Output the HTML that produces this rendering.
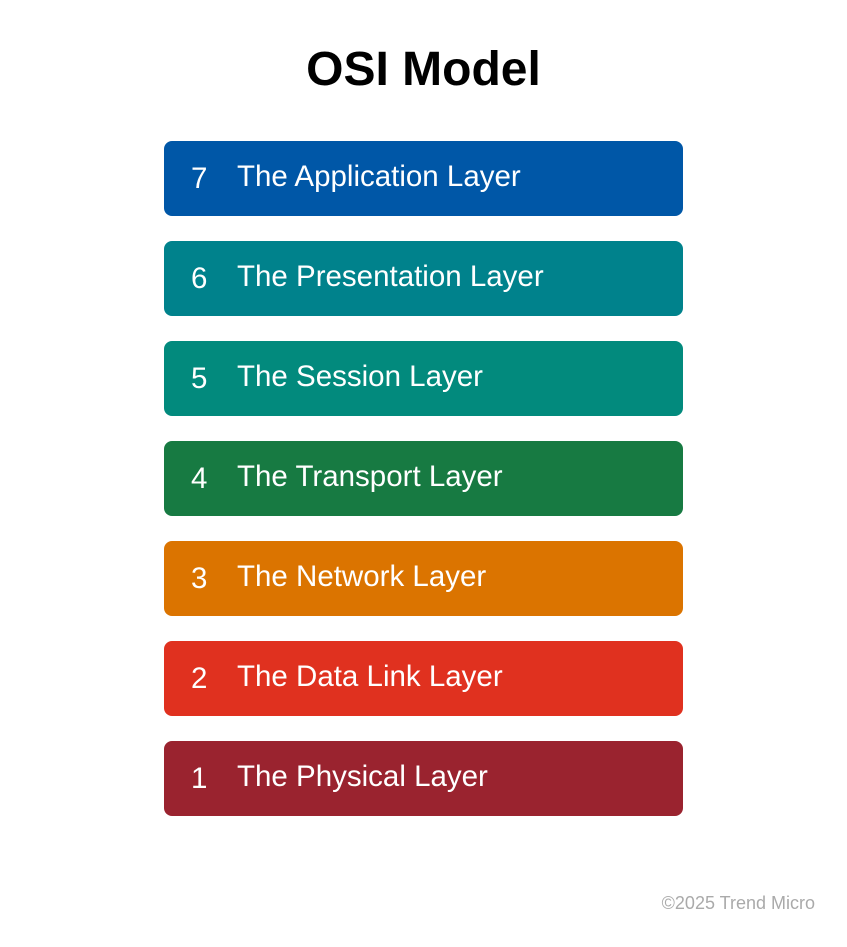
<!DOCTYPE html>
<html><head><meta charset="utf-8"><style>
html,body{margin:0;padding:0;background:#fff;width:847px;height:947px;overflow:hidden;font-family:"Liberation Sans",sans-serif;position:relative}
h1{position:absolute;top:40px;left:0;width:847px;text-align:center;margin:0;font-size:48px;font-weight:bold;line-height:60px;color:#000}
.b{position:absolute;left:164px;width:519px;height:75px;border-radius:8px;color:#fff;font-size:29.5px;line-height:71px}
.b .n{position:absolute;left:27px;top:2px}
.b .t{position:absolute;left:73px}
.f{position:absolute;right:32px;top:893px;font-size:18px;color:#aaa}
</style></head><body>
<h1>OSI Model</h1>
<div class="b" style="top:141px;background:#0057a7"><span class="n">7</span><span class="t">The Application Layer</span></div>
<div class="b" style="top:241px;background:#00828c"><span class="n">6</span><span class="t">The Presentation Layer</span></div>
<div class="b" style="top:341px;background:#028a7d"><span class="n">5</span><span class="t">The Session Layer</span></div>
<div class="b" style="top:441px;background:#177a42"><span class="n">4</span><span class="t">The Transport Layer</span></div>
<div class="b" style="top:541px;background:#db7400"><span class="n">3</span><span class="t">The Network Layer</span></div>
<div class="b" style="top:641px;background:#e0311f"><span class="n">2</span><span class="t">The Data Link Layer</span></div>
<div class="b" style="top:741px;background:#9a232f"><span class="n">1</span><span class="t">The Physical Layer</span></div>
<div class="f">©2025 Trend Micro</div>
</body></html>
